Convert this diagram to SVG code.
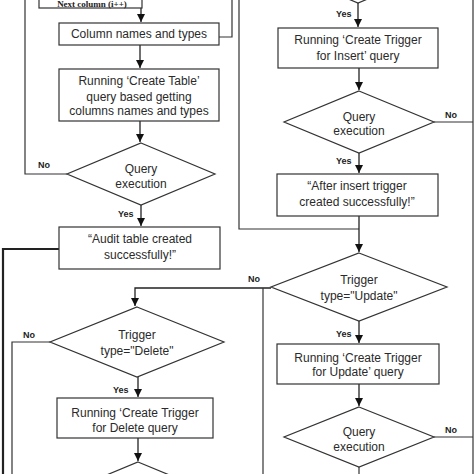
<svg xmlns="http://www.w3.org/2000/svg" width="474" height="474" viewBox="0 0 474 474">
<defs>
<marker id="ah" viewBox="0 0 8 8" refX="8" refY="4" markerWidth="8" markerHeight="8" markerUnits="userSpaceOnUse" orient="auto">
<path d="M0,0 L8,4 L0,8 Z" fill="#111"/>
</marker>
<style>
.box{fill:#fff;stroke:#333;stroke-width:1.2}
.t{font-family:"Liberation Sans",Arial,sans-serif;font-size:12px;fill:#2a2a2a;text-anchor:middle}
.lb{font-family:"Liberation Sans",Arial,sans-serif;font-size:9px;font-weight:bold;fill:#222}
.ln{fill:none;stroke:#333;stroke-width:1.2}
.ar{fill:none;stroke:#222;stroke-width:1.3;marker-end:url(#ah)}
</style>
</defs>
<rect width="474" height="474" fill="#fff"/>
<g id="connectors">
<path class="ar" d="M141,8 V22"/>
<path class="ln" d="M219,37 H232 V0"/>
<path class="ar" d="M140,45 V68"/>
<path class="ar" d="M140,121 V142"/>
<path class="ln" d="M67,174 H25 V0"/>
<path class="ar" d="M141,205 V226"/>
<path class="ln" d="M59,249 H3 V474" style="stroke:#222;stroke-width:2.2"/>
<path class="ar" d="M358,3 V27"/>
<path class="ar" d="M359,68 V90"/>
<path class="ln" d="M434,122 H473"/>
<path class="ar" d="M359,153 V173"/>
<path class="ln" d="M239,0 V229 H359"/>
<path class="ar" d="M359,216 V252"/>
<path class="ar" d="M271,288 H135 V306"/>
<path class="ln" d="M263,288 V474"/>
<path class="ar" d="M359,321 V343"/>
<path class="ar" d="M359,384 V406"/>
<path class="ln" d="M434,437 H473"/>
<path class="ln" d="M359,467 V474"/>
<path class="ln" d="M50,342 H12 V474"/>
<path class="ar" d="M138,377 V397"/>
<path class="ar" d="M138,438 V461"/>
<path class="ln" d="M473,0 V474"/>
<text class="lb" x="38" y="168">No</text>
<text class="lb" x="118" y="217">Yes</text>
<text class="lb" x="336" y="17">Yes</text>
<text class="lb" x="445" y="118">No</text>
<text class="lb" x="336" y="164">Yes</text>
<text class="lb" x="248" y="282">No</text>
<text class="lb" x="336" y="337">Yes</text>
<text class="lb" x="445" y="433">No</text>
<text class="lb" x="23" y="338">No</text>
<text class="lb" x="113" y="393">Yes</text>
</g>
<g id="next-column">
<rect class="box" x="39" y="-20" width="103" height="28"/>
<text x="92" y="6.8" style="font-family:'Liberation Serif','Times New Roman',serif;font-size:9px;font-weight:bold;fill:#222;text-anchor:middle">Next column (i++)</text>
</g>
<g id="column-names">
<rect class="box" x="59" y="23" width="160" height="22"/>
<text class="t" x="139" y="38">Column names and types</text>
</g>
<g id="create-table">
<rect class="box" x="59" y="69" width="160" height="52"/>
<text class="t" x="139" y="85">Running ‘Create Table’</text>
<text class="t" x="139" y="101">query based getting</text>
<text class="t" x="139" y="115">columns names and types</text>
</g>
<g id="query-exec-1">
<polygon class="box" points="141,143 215,174 141,205 67,174"/>
<text class="t" x="141" y="173">Query</text>
<text class="t" x="141" y="188">execution</text>
</g>
<g id="audit-created">
<rect class="box" x="59" y="227" width="161" height="42"/>
<text class="t" x="140" y="243">“Audit table created</text>
<text class="t" x="140" y="259">successfully!”</text>
</g>
<g id="top-decision">
<polygon class="box" points="358,-59 433,-28 358,3 283,-28"/>
</g>
<g id="trigger-insert">
<rect class="box" x="278" y="28" width="160" height="40"/>
<text class="t" x="358" y="44">Running ‘Create Trigger</text>
<text class="t" x="358" y="60">for Insert’ query</text>
</g>
<g id="query-exec-2">
<polygon class="box" points="359,91 434,122 359,153 284,122"/>
<text class="t" x="359" y="121">Query</text>
<text class="t" x="359" y="135">execution</text>
</g>
<g id="insert-created">
<rect class="box" x="277" y="174" width="161" height="42"/>
<text class="t" x="357" y="190">“After insert trigger</text>
<text class="t" x="357" y="206">created successfully!”</text>
</g>
<g id="trigger-update-decision">
<polygon class="box" points="359,253 447,287 359,321 271,287"/>
<text class="t" x="359" y="284">Trigger</text>
<text class="t" x="359" y="300">type="Update"</text>
</g>
<g id="trigger-update">
<rect class="box" x="277" y="344" width="162" height="40"/>
<text class="t" x="358" y="362">Running ‘Create Trigger</text>
<text class="t" x="358" y="376">for Update’ query</text>
</g>
<g id="query-exec-3">
<polygon class="box" points="359,407 434,437 359,467 284,437"/>
<text class="t" x="359" y="436">Query</text>
<text class="t" x="359" y="451">execution</text>
</g>
<g id="trigger-delete-decision">
<polygon class="box" points="137,307 224,342 137,377 50,342"/>
<text class="t" x="137" y="339">Trigger</text>
<text class="t" x="137" y="355">type="Delete"</text>
</g>
<g id="trigger-delete">
<rect class="box" x="57" y="398" width="156" height="40"/>
<text class="t" x="135" y="417">Running ‘Create Trigger</text>
<text class="t" x="135" y="432">for Delete query</text>
</g>
<g id="query-exec-4">
<polygon class="box" points="138,462 213,493 138,524 63,493"/>
</g>
</svg>
